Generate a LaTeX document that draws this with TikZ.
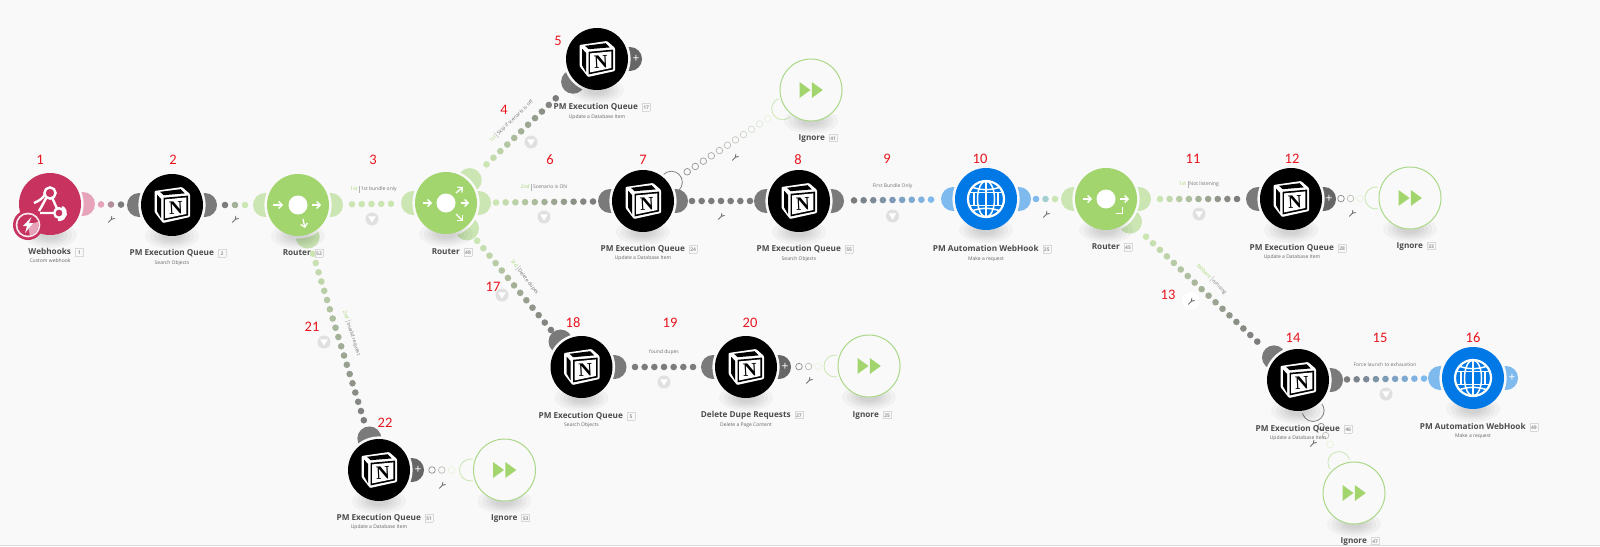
\documentclass[tikz,border=0pt]{standalone}
\usepackage{fontspec}
\setmainfont{Open Sans}
\newfontfamily\redfont{Carlito}
\newfontfamily\nfont{Liberation Serif}
\usetikzlibrary{calc,backgrounds,arrows.meta}
\definecolor{bgc}{HTML}{F9F9F9}
\definecolor{crim}{HTML}{C7325F}
\definecolor{crimpale}{HTML}{E6A3BA}
\definecolor{routg}{HTML}{A2D56E}
\definecolor{paleg}{HTML}{CBE6B3}
\definecolor{ign}{HTML}{ABD888}
\definecolor{portg}{HTML}{7A7A7A}
\definecolor{dotg}{HTML}{7C7C7C}
\definecolor{nblue}{HTML}{0079E6}
\definecolor{paleb}{HTML}{7FBAEE}
\definecolor{redn}{HTML}{E8141E}
\definecolor{boxg}{HTML}{D8D8D8}
\newcommand\numbox[1]{\raisebox{-1pt}{\setlength\fboxsep{0pt}\setlength\fboxrule{.5pt}\fcolorbox{boxg}{bgc}{\makebox[7.5pt]{\rule{0pt}{7pt}\fontsize{5}{6}\selectfont\color{black!40}\raisebox{.8pt}{#1}}}}}
\newcommand\edgetxt[2]{\textcolor{routg}{#1}\hspace{1.5pt}\textcolor{black!30}{\rule[-1.6pt]{.4pt}{7pt}}\hspace{1.5pt}#2}
\newcommand\dotlink[8]{%
  \coordinate (dS) at ($(#1)!#3pt!(#2)$);
  \coordinate (dE) at ($(#2)!#4pt!(#1)$);
  \pgfmathtruncatemacro\lastk{#5-1}
  \foreach \k in {0,...,\lastk}{
    \pgfmathtruncatemacro\pc{100*\k/\lastk}
    \pgfmathsetmacro\tt{\k/\lastk}
    \path[#8=#7!\pc!#6] ($(dS)!\tt!(dE)$) circle (3.3);
  }}
\newcommand\mear[3]{\fill[#3] (#1) ++(#2:33) circle (12);}
\newcommand\hear[3]{\draw[#3,line width=.8pt] (#1) ++(#2:34) circle (11);}
\tikzset{
  filleddot/.style={fill=#1},
  hollowdot/.style={draw=#1,line width=.7pt},
  modnode/.style={circle,minimum size=62pt,inner sep=0pt},
  nnotion/.style={modnode,fill=black},
  nrouter/.style={modnode,fill=routg},
  nglobe/.style={modnode,fill=nblue},
  nhook/.style={modnode,fill=crim},
  nignore/.style={modnode,fill=bgc,draw=ign,line width=1pt},
  nlabel/.style={font=\fontsize{8.2}{9}\selectfont\bfseries,text=black!70,inner sep=0pt},
  slabel/.style={font=\fontsize{5}{6}\selectfont,text=black!60,inner sep=0pt},
  elabel/.style={font=\fontsize{5}{6}\selectfont,text=black!55,inner sep=0pt},
  rednum/.style={font=\redfont\fontsize{14.5}{15}\selectfont,text=redn,inner sep=0pt},
  plusmark/.style={font=\fontsize{12}{12}\selectfont,text=white,inner sep=0pt},
  rarrow/.style={white,line width=1.3pt,-{Straight Barb[length=3.5pt,width=7pt]}},
  notion/.pic={
    \fill[white,rounded corners=1pt] (-17.5,-14) -- (10,-18) -- (18,-11) -- (18,12) -- (-9,18) -- (-17.5,7) -- cycle;
    \fill[black] (-12,-13.2) -- (8.6,-15.8) -- (12.8,-11.6) -- (-8.4,-9.8) -- cycle;
    \fill[black] (-15,-10.5) -- (-11,-6) -- (-11,13.2) -- (-15,6.2) -- cycle;
    \fill[black] (-8.4,-7.2) -- (16,-9.4) -- (16,10.4) -- (-8.4,15.4) -- cycle;
    \fill[white] (-6.8,-5.6) -- (14.4,-7.6) -- (14.4,9) -- (-6.8,13.4) -- cycle;
    \node[font=\nfont\bfseries\fontsize{19}{19}\selectfont,text=black,inner sep=0pt,rotate=3] (letter) at (3.8,3) {N};
  },
  globe/.pic={
    \begin{scope}
      \clip (0,0) circle (18);
      \draw[white,line width=1.5pt] (0,-18) -- (0,18);
      \draw[white,line width=1.5pt] (0,0) ellipse (8.5 and 18);
      \draw[white,line width=1.5pt] (-18,-6.5) -- (18,-6.5) (-18,6.5) -- (18,6.5);
      \draw[white,line width=1.5pt] (-14,-12) .. controls (-6,-8.5) and (6,-8.5) .. (14,-12);
      \draw[white,line width=1.5pt] (-14,12) .. controls (-6,8.5) and (6,8.5) .. (14,12);
      \draw[white,line width=1.2pt] (-12,-6.5) -- (-12,6.5) (12,-6.5) -- (12,6.5);
    \end{scope}
    \draw[white,line width=2.2pt] (0,0) circle (18);
  },
  hook/.pic={
    \draw[white,line width=2.4pt] (0,-11) -- (9,9) -- (-10,9);
    \draw[white,line width=2.4pt] (-1,-11) .. controls (-5,-4) and (-8,2) .. (-11,7);
    \draw[white,line width=2.4pt] (-5.5,-9) .. controls (-7,-6) and (-11,-3) .. (-16,-1);
    \draw[white,line width=2.4pt] (12,3) .. controls (18,6) and (17,16) .. (8,16);
    \filldraw[draw=white,fill=crim,line width=2.4pt] (0,-11) circle (5.6);
    \filldraw[draw=white,fill=crim,line width=2.4pt] (9,9) circle (4.8);
  },
  wrenchi/.pic={
    \draw[black!55,line width=.9pt,line cap=round] (-2.6,3.4) -- (.4,.3);
    \draw[black!55,line width=.9pt,line cap=round] (.8,-2.8) -- (.4,.3) -- (3.4,-.5);
  },
  filteri/.pic={
    \fill[black!12] (0,0) circle (6.5);
    \fill[white] (-3.8,-2.6) -- (3.8,-2.6) -- (0,3.6) -- cycle;
  },
  skip/.pic={
    \fill[routg] (-11.5,-8) -- (-.5,0) -- (-11.5,8) -- cycle;
    \fill[routg] (.8,-8) -- (11.8,0) -- (.8,8) -- cycle;
  },
}
\begin{document}
\begin{tikzpicture}[x=1pt,y=-1pt]
\useasboundingbox (0,0) rectangle (1600,546);
% ---------- modules
\node[nhook]   (n1)  at (50,204) {};
\node[nnotion] (n2)  at (172,205) {};
\node[nrouter] (r1)  at (298,205) {};
\node[nrouter] (r2)  at (446,203) {};
\node[nnotion] (n5)  at (597,59) {};
\node[nignore] (i41) at (811,90) {};
\node[nnotion] (n7)  at (643,201) {};
\node[nnotion] (n8)  at (799,201) {};
\node[nglobe]  (g10) at (986,199) {};
\node[nrouter] (r3)  at (1106,199) {};
\node[nnotion] (n12) at (1291,199) {};
\node[nignore] (i33) at (1410,198) {};
\node[nnotion] (n14) at (1298,380) {};
\node[nglobe]  (g16) at (1473,378) {};
\node[nignore] (i47) at (1354,493) {};
\node[nnotion] (n18) at (581.5,367) {};
\node[nnotion] (n20) at (746,367) {};
\node[nignore] (i25) at (869,366) {};
\node[nnotion] (n22) at (379,470) {};
\node[nignore] (i51) at (504.5,470) {};
\begin{pgfonlayer}{background}
\fill[bgc] (0,0) rectangle (1600,546);
\fill[black!14] (0,544.8) rectangle (1600,546);
% ports
\mear{n1}{0}{crimpale}
\mear{n2}{180}{portg}\mear{n2}{0}{portg}
\mear{r1}{180}{paleg}\mear{r1}{0}{paleg}\mear{r1}{73}{paleg}
\mear{r2}{180}{paleg}\mear{r2}{0}{paleg}\mear{r2}{-44}{paleg}\mear{r2}{50.5}{paleg}
\mear{n5}{136.4}{portg}\mear{n5}{0}{black!60}
\mear{n7}{180}{portg}\mear{n7}{0}{portg}\hear{n7}{-33.5}{black!50}
\mear{n8}{180}{portg}\mear{n8}{0}{portg}
\mear{g10}{180}{paleb}\mear{g10}{0}{paleb}
\mear{r3}{180}{paleg}\mear{r3}{0}{paleg}\mear{r3}{43.3}{paleg}
\mear{n12}{180}{portg}\mear{n12}{0}{black!60}
\mear{n14}{223.3}{portg}\mear{n14}{0}{portg}\hear{n14}{63.6}{black!50}
\mear{g16}{180}{paleb}\mear{g16}{0}{paleb}
\mear{n18}{230.5}{portg}\mear{n18}{0}{portg}
\mear{n20}{180}{portg}\mear{n20}{0}{black!60}
\mear{n22}{253}{portg}\mear{n22}{0}{black!60}
\hear{i41}{146.5}{paleg}\hear{i33}{180}{paleg}\hear{i47}{243.6}{paleg}\hear{i25}{180}{paleg}\hear{i51}{180}{paleg}
\foreach \m in {n1,n2,r1,r2,n5,i41,n7,n8,g10,r3,n12,i33,n14,g16,i47,n18,n20,i25,n22,i51}{
  \fill[bgc] (\m) circle (33.6);
  \foreach \w in {10,14,18,22,27}{
    \fill[black,opacity=.03] ($(\m)+(0,31)$) ellipse (\w pt and .48*\w pt);
  }
}
% connectors
\dotlink{n1}{n2}{51}{51}{3}{crimpale}{dotg}{filleddot}
\dotlink{n2}{r1}{53}{53}{3}{dotg}{paleg}{filleddot}
\dotlink{r1}{r2}{54}{55}{5}{paleg}{paleg}{filleddot}
\dotlink{r2}{n5}{56}{57}{11}{paleg}{dotg}{filleddot}
\dotlink{r2}{n7}{50}{50}{11}{paleg}{dotg}{filleddot}
\dotlink{n7}{n8}{49}{49}{7}{dotg}{dotg}{filleddot}
\dotlink{n8}{g10}{55}{55}{9}{dotg}{paleb}{filleddot}
\dotlink{g10}{r3}{50}{51}{3}{paleb}{paleg}{filleddot}
\dotlink{r3}{n12}{54}{54}{9}{paleg}{dotg}{filleddot}
\dotlink{n12}{i33}{50}{50}{3}{black!45}{paleg}{hollowdot}
\dotlink{r3}{n14}{55}{56}{17}{paleg}{dotg}{filleddot}
\dotlink{n14}{g16}{49}{49}{9}{dotg}{paleb}{filleddot}
\dotlink{n14}{i47}{52}{54}{3}{black!45}{paleg}{hollowdot}
\dotlink{r2}{n18}{49}{48}{13}{paleg}{dotg}{filleddot}
\dotlink{n18}{n20}{53.5}{53}{7}{dotg}{dotg}{filleddot}
\dotlink{n20}{i25}{53}{51}{3}{black!45}{paleg}{hollowdot}
\dotlink{r1}{n22}{51}{52}{19}{paleg}{dotg}{filleddot}
\dotlink{n22}{i51}{53}{53}{3}{black!45}{paleg}{hollowdot}
\dotlink{n7}{i41}{53}{52}{11}{black!45}{paleg}{hollowdot}
\end{pgfonlayer}
% ---------- icons
\foreach \m in {n2,n5,n7,n8,n12,n14,n18,n20,n22}{\pic at (\m) {notion};}
\foreach \m in {g10,g16}{\pic at (\m) {globe};}
\foreach \m in {i41,i33,i47,i25,i51}{\pic at (\m) {skip};}
\pic at (n1) {hook};
\node[circle,minimum size=30pt,inner sep=0pt,fill=crim] (badge) at (28,225) {};
\fill[white!88!crim] (badge) circle (12.4);
\fill[crim] (badge) circle (10.6);
\fill[crimpale] (badge.center) -- ++(-18:10.6) arc (-18:80:10.6) -- cycle;
\fill[white] ($(badge)+(3.5,-8)$) -- ($(badge)+(-5,1)$) -- ($(badge)+(-1,1)$) -- ($(badge)+(-3,8)$) -- ($(badge)+(5.2,-2)$) -- ($(badge)+(1,-2)$) -- cycle;
\foreach \m in {r1,r2,r3}{\fill[white] (\m) circle (9.5);}
\draw[rarrow] ($(r1)+(-25,0)$) -- ($(r1)+(-15,0)$);
\draw[rarrow] ($(r1)+(14,0)$) -- ($(r1)+(23,0)$);
\draw[rarrow] ($(r1)+(5,14)$) -- ($(r1)+(7,23)$);
\draw[rarrow] ($(r2)+(-23,0)$) -- ($(r2)+(-14,0)$);
\draw[rarrow] ($(r2)+(15,0)$) -- ($(r2)+(23,0)$);
\draw[rarrow] ($(r2)+(10,-10)$) -- ($(r2)+(17,-16)$);
\draw[rarrow] ($(r2)+(10,11)$) -- ($(r2)+(17,18)$);
\draw[rarrow] ($(r3)+(-23,0)$) -- ($(r3)+(-14,0)$);
\draw[rarrow] ($(r3)+(14,0)$) -- ($(r3)+(23,0)$);
\draw[white,line width=1.3pt] ($(r3)+(9.6,14.5)$) -- ($(r3)+(16.5,14.5)$) -- ($(r3)+(16.5,8)$);
% plus marks
\node[plusmark] (p5)  at ($(n5)+(39,0)$) {+};
\node[plusmark] (p12) at ($(n12)+(38,0)$) {+};
\node[plusmark] (p16) at ($(g16)+(39,0)$) {+};
\node[plusmark] (p20) at ($(n20)+(39,0)$) {+};
\node[plusmark] (p22) at ($(n22)+(39,0)$) {+};
% wrenches
\foreach \x/\y in {111/219,235/219,721/216,735/157,1046/214,1352/213,1313/443,809/380,442/485}{\pic at (\x,\y) {wrenchi};}
\node[circle,fill=white,minimum size=18pt,inner sep=0pt] (wr13) at (1191,301) {};
\pic at (wr13) {wrenchi};
% filters
\foreach \x/\y in {372/219,531/142,544/217,892.5/216,1199/214,1386/394,502/295,664/382,324/342}{\pic at (\x,\y) {filteri};}
% edge labels
\node[elabel] (e3) at (373.5,189) {\edgetxt{1st}{1st bundle only}};
\node[elabel,rotate=44] (e4) at (511,121) {\edgetxt{1st}{Skip if scenario is off}};
\node[elabel] (e6) at (544,187) {\edgetxt{2nd}{Scenario is ON}};
\node[elabel,rotate=-52] (e17) at (525,277) {\edgetxt{3rd}{Delete dupes}};
\node[elabel,rotate=-72] (e21) at (352,333) {\edgetxt{2nd}{Invalid request}};
\node[elabel] (e9) at (892.5,186) {First Bundle Only};
\node[elabel] (e11) at (1199,184) {\edgetxt{1st}{Not listening}};
\node[elabel,rotate=-45] (e13) at (1212,279) {\edgetxt{fallback}{running}};
\node[elabel] (e19) at (664,352) {found dupes};
\node[elabel] (e15) at (1385,365) {Force launch to exhaustion};
% module labels
\node[nlabel] (l1) at (56,252) {Webhooks\hspace{4pt}\numbox{1}};
\node[slabel] (s1) at (50,261) {Custom webhook};
\node[nlabel] (l2) at (178,253) {PM Execution Queue\hspace{4pt}\numbox{2}};
\node[slabel] (s2) at (172,263) {Search Objects};
\node[nlabel] (lr1) at (303,253) {Router\hspace{4pt}\numbox{52}};
\node[nlabel] (lr2) at (452,252) {Router\hspace{4pt}\numbox{48}};
\node[nlabel] (l5) at (602,107) {PM Execution Queue\hspace{4pt}\numbox{17}};
\node[slabel] (s5) at (597,117) {Update a Database Item};
\node[nlabel] (l41) at (818,138) {Ignore\hspace{4pt}\numbox{41}};
\node[nlabel] (l7) at (649,249) {PM Execution Queue\hspace{4pt}\numbox{24}};
\node[slabel] (s7) at (643,258) {Update a Database Item};
\node[nlabel] (l8) at (805,249) {PM Execution Queue\hspace{4pt}\numbox{55}};
\node[slabel] (s8) at (799,259) {Search Objects};
\node[nlabel] (l10) at (992,249) {PM Automation WebHook\hspace{4pt}\numbox{25}};
\node[slabel] (s10) at (986,259) {Make a request};
\node[nlabel] (lr3) at (1112,247) {Router\hspace{4pt}\numbox{45}};
\node[nlabel] (l12) at (1298,248) {PM Execution Queue\hspace{4pt}\numbox{28}};
\node[slabel] (s12) at (1292,257) {Update a Database Item};
\node[nlabel] (l33) at (1416,246) {Ignore\hspace{4pt}\numbox{33}};
\node[nlabel] (l14) at (1304,429) {PM Execution Queue\hspace{4pt}\numbox{46}};
\node[slabel] (s14) at (1298,438) {Update a Database Item};
\node[nlabel] (l16) at (1479,427) {PM Automation WebHook\hspace{4pt}\numbox{49}};
\node[slabel] (s16) at (1473,436) {Make a request};
\node[nlabel] (l47) at (1360,541) {Ignore\hspace{4pt}\numbox{47}};
\node[nlabel] (l18) at (587,416) {PM Execution Queue\hspace{4pt}\numbox{5}};
\node[slabel] (s18) at (581.5,425) {Search Objects};
\node[nlabel] (l20) at (752,415) {Delete Dupe Requests\hspace{4pt}\numbox{27}};
\node[slabel] (s20) at (746,425) {Delete a Page Content};
\node[nlabel] (l25) at (872,415) {Ignore\hspace{4pt}\numbox{25}};
\node[nlabel] (l22) at (385,518) {PM Execution Queue\hspace{4pt}\numbox{51}};
\node[slabel] (s22) at (379,527) {Update a Database Item};
\node[nlabel] (l51) at (510.5,518) {Ignore\hspace{4pt}\numbox{53}};
% red numbers
\foreach \t/\x/\y in {1/40/160,2/173/160,3/373/160,4/504/110,5/558/41,6/550/160,7/643/160,8/798/160,9/887/159,10/980/159,11/1193/159,12/1292/159,13/1168/295,14/1293/338,15/1380/338,16/1473/338,17/493/287,18/573/323,19/670/323,20/750/323,21/312/327,22/385/423}{
  \node[rednum] (red\t) at (\x,\y) {\t};
}
\end{tikzpicture}
\end{document}
